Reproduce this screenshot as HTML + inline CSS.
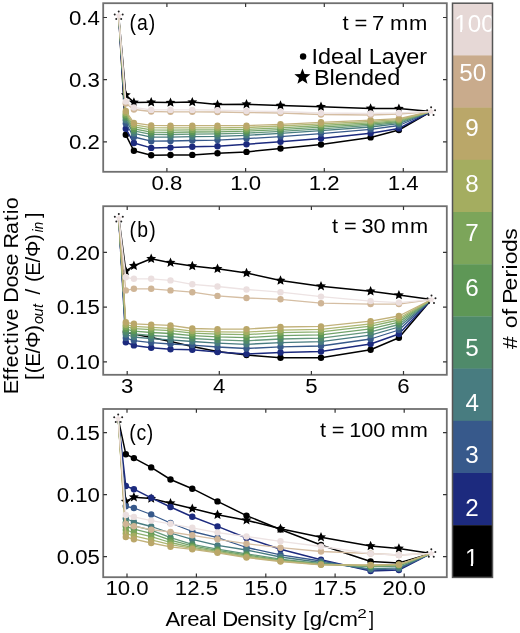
<!DOCTYPE html><html><head><meta charset="utf-8"><style>html,body{margin:0;padding:0;background:#fff;width:520px;height:633px;overflow:hidden}svg text{font-family:"Liberation Sans",sans-serif}</style></head><body><svg width="520" height="633" viewBox="0 0 520 633" style="position:absolute;left:0;top:0;filter:blur(0.5px)">
<rect width="520" height="633" fill="#fff"/>
<clipPath id="ca"><rect x="103.2" y="3.2" width="343.6" height="168.60000000000002"/></clipPath>
<g clip-path="url(#ca)">
<path d="M118.7,15.7 L125.8,95.0 L133.9,102.4 L151.2,102.3 L170.5,102.6 L192.3,102.1 L217.5,104.6 L246.5,104.2 L280.5,105.5 L321.0,106.8 L370.6,108.4 L398.9,108.6 L431.1,111.5" fill="none" stroke="#000" stroke-width="1.50" stroke-linejoin="round"/>
<path d="M125.80,89.80 L127.21,93.06 L130.75,93.39 L128.07,95.74 L128.86,99.21 L125.80,97.39 L122.74,99.21 L123.53,95.74 L120.85,93.39 L124.39,93.06Z" fill="#000"/>
<path d="M133.90,97.20 L135.31,100.46 L138.85,100.79 L136.17,103.14 L136.96,106.61 L133.90,104.79 L130.84,106.61 L131.63,103.14 L128.95,100.79 L132.49,100.46Z" fill="#000"/>
<path d="M151.20,97.10 L152.61,100.36 L156.15,100.69 L153.47,103.04 L154.26,106.51 L151.20,104.69 L148.14,106.51 L148.93,103.04 L146.25,100.69 L149.79,100.36Z" fill="#000"/>
<path d="M170.50,97.40 L171.91,100.66 L175.45,100.99 L172.77,103.34 L173.56,106.81 L170.50,104.99 L167.44,106.81 L168.23,103.34 L165.55,100.99 L169.09,100.66Z" fill="#000"/>
<path d="M192.30,96.90 L193.71,100.16 L197.25,100.49 L194.57,102.84 L195.36,106.31 L192.30,104.49 L189.24,106.31 L190.03,102.84 L187.35,100.49 L190.89,100.16Z" fill="#000"/>
<path d="M217.50,99.40 L218.91,102.66 L222.45,102.99 L219.77,105.34 L220.56,108.81 L217.50,106.99 L214.44,108.81 L215.23,105.34 L212.55,102.99 L216.09,102.66Z" fill="#000"/>
<path d="M246.50,99.00 L247.91,102.26 L251.45,102.59 L248.77,104.94 L249.56,108.41 L246.50,106.59 L243.44,108.41 L244.23,104.94 L241.55,102.59 L245.09,102.26Z" fill="#000"/>
<path d="M280.50,100.30 L281.91,103.56 L285.45,103.89 L282.77,106.24 L283.56,109.71 L280.50,107.89 L277.44,109.71 L278.23,106.24 L275.55,103.89 L279.09,103.56Z" fill="#000"/>
<path d="M321.00,101.60 L322.41,104.86 L325.95,105.19 L323.27,107.54 L324.06,111.01 L321.00,109.19 L317.94,111.01 L318.73,107.54 L316.05,105.19 L319.59,104.86Z" fill="#000"/>
<path d="M370.60,103.20 L372.01,106.46 L375.55,106.79 L372.87,109.14 L373.66,112.61 L370.60,110.79 L367.54,112.61 L368.33,109.14 L365.65,106.79 L369.19,106.46Z" fill="#000"/>
<path d="M398.90,103.40 L400.31,106.66 L403.85,106.99 L401.17,109.34 L401.96,112.81 L398.90,110.99 L395.84,112.81 L396.63,109.34 L393.95,106.99 L397.49,106.66Z" fill="#000"/>
<path d="M118.7,15.7 L125.8,134.8 L133.9,150.8 L151.2,155.3 L170.5,155.0 L192.3,154.9 L217.5,153.3 L246.5,151.9 L280.5,148.5 L321.0,144.5 L370.6,137.4 L398.9,130.0 L431.1,111.5" fill="none" stroke="#000000" stroke-width="1.50" stroke-linejoin="round"/>
<circle cx="125.8" cy="134.8" r="3.2" fill="#000000"/>
<circle cx="133.9" cy="150.8" r="3.2" fill="#000000"/>
<circle cx="151.2" cy="155.3" r="3.2" fill="#000000"/>
<circle cx="170.5" cy="155.0" r="3.2" fill="#000000"/>
<circle cx="192.3" cy="154.9" r="3.2" fill="#000000"/>
<circle cx="217.5" cy="153.3" r="3.2" fill="#000000"/>
<circle cx="246.5" cy="151.9" r="3.2" fill="#000000"/>
<circle cx="280.5" cy="148.5" r="3.2" fill="#000000"/>
<circle cx="321.0" cy="144.5" r="3.2" fill="#000000"/>
<circle cx="370.6" cy="137.4" r="3.2" fill="#000000"/>
<circle cx="398.9" cy="130.0" r="3.2" fill="#000000"/>
<path d="M118.7,15.7 L125.8,128.8 L133.9,143.0 L151.2,147.9 L170.5,147.6 L192.3,146.8 L217.5,146.3 L246.5,144.2 L280.5,141.8 L321.0,138.5 L370.6,133.3 L398.9,128.4 L431.1,111.5" fill="none" stroke="#1c2a7e" stroke-width="1.50" stroke-linejoin="round"/>
<circle cx="125.8" cy="128.8" r="3.2" fill="#1c2a7e"/>
<circle cx="133.9" cy="143.0" r="3.2" fill="#1c2a7e"/>
<circle cx="151.2" cy="147.9" r="3.2" fill="#1c2a7e"/>
<circle cx="170.5" cy="147.6" r="3.2" fill="#1c2a7e"/>
<circle cx="192.3" cy="146.8" r="3.2" fill="#1c2a7e"/>
<circle cx="217.5" cy="146.3" r="3.2" fill="#1c2a7e"/>
<circle cx="246.5" cy="144.2" r="3.2" fill="#1c2a7e"/>
<circle cx="280.5" cy="141.8" r="3.2" fill="#1c2a7e"/>
<circle cx="321.0" cy="138.5" r="3.2" fill="#1c2a7e"/>
<circle cx="370.6" cy="133.3" r="3.2" fill="#1c2a7e"/>
<circle cx="398.9" cy="128.4" r="3.2" fill="#1c2a7e"/>
<path d="M118.7,15.7 L125.8,123.5 L133.9,137.0 L151.2,141.2 L170.5,141.0 L192.3,140.5 L217.5,140.1 L246.5,138.6 L280.5,136.6 L321.0,133.6 L370.6,129.4 L398.9,125.5 L431.1,111.5" fill="none" stroke="#37598b" stroke-width="1.30" stroke-linejoin="round"/>
<circle cx="125.8" cy="123.5" r="3.2" fill="#37598b"/>
<circle cx="133.9" cy="137.0" r="3.2" fill="#37598b"/>
<circle cx="151.2" cy="141.2" r="3.2" fill="#37598b"/>
<circle cx="170.5" cy="141.0" r="3.2" fill="#37598b"/>
<circle cx="192.3" cy="140.5" r="3.2" fill="#37598b"/>
<circle cx="217.5" cy="140.1" r="3.2" fill="#37598b"/>
<circle cx="246.5" cy="138.6" r="3.2" fill="#37598b"/>
<circle cx="280.5" cy="136.6" r="3.2" fill="#37598b"/>
<circle cx="321.0" cy="133.6" r="3.2" fill="#37598b"/>
<circle cx="370.6" cy="129.4" r="3.2" fill="#37598b"/>
<circle cx="398.9" cy="125.5" r="3.2" fill="#37598b"/>
<path d="M118.7,15.7 L125.8,120.3 L133.9,133.4 L151.2,137.1 L170.5,137.1 L192.3,136.7 L217.5,136.4 L246.5,135.3 L280.5,133.4 L321.0,130.7 L370.6,127.0 L398.9,123.7 L431.1,111.5" fill="none" stroke="#487c80" stroke-width="1.30" stroke-linejoin="round"/>
<circle cx="125.8" cy="120.3" r="3.2" fill="#487c80"/>
<circle cx="133.9" cy="133.4" r="3.2" fill="#487c80"/>
<circle cx="151.2" cy="137.1" r="3.2" fill="#487c80"/>
<circle cx="170.5" cy="137.1" r="3.2" fill="#487c80"/>
<circle cx="192.3" cy="136.7" r="3.2" fill="#487c80"/>
<circle cx="217.5" cy="136.4" r="3.2" fill="#487c80"/>
<circle cx="246.5" cy="135.3" r="3.2" fill="#487c80"/>
<circle cx="280.5" cy="133.4" r="3.2" fill="#487c80"/>
<circle cx="321.0" cy="130.7" r="3.2" fill="#487c80"/>
<circle cx="370.6" cy="127.0" r="3.2" fill="#487c80"/>
<circle cx="398.9" cy="123.7" r="3.2" fill="#487c80"/>
<path d="M118.7,15.7 L125.8,118.1 L133.9,130.9 L151.2,134.4 L170.5,134.5 L192.3,134.1 L217.5,133.9 L246.5,133.1 L280.5,131.3 L321.0,128.8 L370.6,125.4 L398.9,122.5 L431.1,111.5" fill="none" stroke="#64987c" stroke-width="1.30" stroke-linejoin="round"/>
<circle cx="125.8" cy="118.1" r="3.2" fill="#4f8a6a"/>
<circle cx="133.9" cy="130.9" r="3.2" fill="#4f8a6a"/>
<circle cx="151.2" cy="134.4" r="3.2" fill="#4f8a6a"/>
<circle cx="170.5" cy="134.5" r="3.2" fill="#4f8a6a"/>
<circle cx="192.3" cy="134.1" r="3.2" fill="#4f8a6a"/>
<circle cx="217.5" cy="133.9" r="3.2" fill="#4f8a6a"/>
<circle cx="246.5" cy="133.1" r="3.2" fill="#4f8a6a"/>
<circle cx="280.5" cy="131.3" r="3.2" fill="#4f8a6a"/>
<circle cx="321.0" cy="128.8" r="3.2" fill="#4f8a6a"/>
<circle cx="370.6" cy="125.4" r="3.2" fill="#4f8a6a"/>
<circle cx="398.9" cy="122.5" r="3.2" fill="#4f8a6a"/>
<path d="M118.7,15.7 L125.8,116.3 L133.9,128.9 L151.2,132.2 L170.5,132.3 L192.3,132.0 L217.5,131.9 L246.5,131.2 L280.5,129.6 L321.0,127.2 L370.6,124.1 L398.9,121.5 L431.1,111.5" fill="none" stroke="#71a36a" stroke-width="1.30" stroke-linejoin="round"/>
<circle cx="125.8" cy="116.3" r="3.2" fill="#5e9756"/>
<circle cx="133.9" cy="128.9" r="3.2" fill="#5e9756"/>
<circle cx="151.2" cy="132.2" r="3.2" fill="#5e9756"/>
<circle cx="170.5" cy="132.3" r="3.2" fill="#5e9756"/>
<circle cx="192.3" cy="132.0" r="3.2" fill="#5e9756"/>
<circle cx="217.5" cy="131.9" r="3.2" fill="#5e9756"/>
<circle cx="246.5" cy="131.2" r="3.2" fill="#5e9756"/>
<circle cx="280.5" cy="129.6" r="3.2" fill="#5e9756"/>
<circle cx="321.0" cy="127.2" r="3.2" fill="#5e9756"/>
<circle cx="370.6" cy="124.1" r="3.2" fill="#5e9756"/>
<circle cx="398.9" cy="121.5" r="3.2" fill="#5e9756"/>
<path d="M118.7,15.7 L125.8,114.6 L133.9,126.9 L151.2,129.9 L170.5,130.1 L192.3,129.9 L217.5,129.8 L246.5,129.4 L280.5,127.8 L321.0,125.5 L370.6,122.8 L398.9,120.6 L431.1,111.5" fill="none" stroke="#8cb06e" stroke-width="1.30" stroke-linejoin="round"/>
<circle cx="125.8" cy="114.6" r="3.2" fill="#7ca55a"/>
<circle cx="133.9" cy="126.9" r="3.2" fill="#7ca55a"/>
<circle cx="151.2" cy="129.9" r="3.2" fill="#7ca55a"/>
<circle cx="170.5" cy="130.1" r="3.2" fill="#7ca55a"/>
<circle cx="192.3" cy="129.9" r="3.2" fill="#7ca55a"/>
<circle cx="217.5" cy="129.8" r="3.2" fill="#7ca55a"/>
<circle cx="246.5" cy="129.4" r="3.2" fill="#7ca55a"/>
<circle cx="280.5" cy="127.8" r="3.2" fill="#7ca55a"/>
<circle cx="321.0" cy="125.5" r="3.2" fill="#7ca55a"/>
<circle cx="370.6" cy="122.8" r="3.2" fill="#7ca55a"/>
<circle cx="398.9" cy="120.6" r="3.2" fill="#7ca55a"/>
<path d="M118.7,15.7 L125.8,112.8 L133.9,124.9 L151.2,127.7 L170.5,127.9 L192.3,127.8 L217.5,127.8 L246.5,127.5 L280.5,126.0 L321.0,123.9 L370.6,121.5 L398.9,119.6 L431.1,111.5" fill="none" stroke="#afb773" stroke-width="1.30" stroke-linejoin="round"/>
<circle cx="125.8" cy="112.8" r="3.2" fill="#a4ad60"/>
<circle cx="133.9" cy="124.9" r="3.2" fill="#a4ad60"/>
<circle cx="151.2" cy="127.7" r="3.2" fill="#a4ad60"/>
<circle cx="170.5" cy="127.9" r="3.2" fill="#a4ad60"/>
<circle cx="192.3" cy="127.8" r="3.2" fill="#a4ad60"/>
<circle cx="217.5" cy="127.8" r="3.2" fill="#a4ad60"/>
<circle cx="246.5" cy="127.5" r="3.2" fill="#a4ad60"/>
<circle cx="280.5" cy="126.0" r="3.2" fill="#a4ad60"/>
<circle cx="321.0" cy="123.9" r="3.2" fill="#a4ad60"/>
<circle cx="370.6" cy="121.5" r="3.2" fill="#a4ad60"/>
<circle cx="398.9" cy="119.6" r="3.2" fill="#a4ad60"/>
<path d="M118.7,15.7 L125.8,111.0 L133.9,122.9 L151.2,125.4 L170.5,125.7 L192.3,125.7 L217.5,125.7 L246.5,125.7 L280.5,124.3 L321.0,122.3 L370.6,120.2 L398.9,118.6 L431.1,111.5" fill="none" stroke="#c2b27b" stroke-width="1.30" stroke-linejoin="round"/>
<circle cx="125.8" cy="111.0" r="3.2" fill="#baa769"/>
<circle cx="133.9" cy="122.9" r="3.2" fill="#baa769"/>
<circle cx="151.2" cy="125.4" r="3.2" fill="#baa769"/>
<circle cx="170.5" cy="125.7" r="3.2" fill="#baa769"/>
<circle cx="192.3" cy="125.7" r="3.2" fill="#baa769"/>
<circle cx="217.5" cy="125.7" r="3.2" fill="#baa769"/>
<circle cx="246.5" cy="125.7" r="3.2" fill="#baa769"/>
<circle cx="280.5" cy="124.3" r="3.2" fill="#baa769"/>
<circle cx="321.0" cy="122.3" r="3.2" fill="#baa769"/>
<circle cx="370.6" cy="120.2" r="3.2" fill="#baa769"/>
<circle cx="398.9" cy="118.6" r="3.2" fill="#baa769"/>
<path d="M118.7,15.7 L125.8,103.5 L133.9,109.5 L151.2,111.5 L170.5,111.8 L192.3,111.8 L217.5,112.0 L246.5,112.5 L280.5,113.0 L321.0,114.5 L370.6,115.0 L398.9,114.0 L431.1,111.5" fill="none" stroke="#d5bea3" stroke-width="1.30" stroke-linejoin="round"/>
<circle cx="125.8" cy="103.5" r="3.2" fill="#cfb596"/>
<circle cx="133.9" cy="109.5" r="3.2" fill="#cfb596"/>
<circle cx="151.2" cy="111.5" r="3.2" fill="#cfb596"/>
<circle cx="170.5" cy="111.8" r="3.2" fill="#cfb596"/>
<circle cx="192.3" cy="111.8" r="3.2" fill="#cfb596"/>
<circle cx="217.5" cy="112.0" r="3.2" fill="#cfb596"/>
<circle cx="246.5" cy="112.5" r="3.2" fill="#cfb596"/>
<circle cx="280.5" cy="113.0" r="3.2" fill="#cfb596"/>
<circle cx="321.0" cy="114.5" r="3.2" fill="#cfb596"/>
<circle cx="370.6" cy="115.0" r="3.2" fill="#cfb596"/>
<circle cx="398.9" cy="114.0" r="3.2" fill="#cfb596"/>
<path d="M118.7,15.7 L125.8,101.6 L133.9,107.5 L151.2,109.9 L170.5,109.9 L192.3,109.9 L217.5,110.2 L246.5,111.0 L280.5,111.5 L321.0,113.0 L370.6,113.5 L398.9,112.9 L431.1,111.5" fill="none" stroke="#ede3e3" stroke-width="1.30" stroke-linejoin="round"/>
<circle cx="125.8" cy="101.6" r="3.2" fill="#ebdfdf"/>
<circle cx="133.9" cy="107.5" r="3.2" fill="#ebdfdf"/>
<circle cx="151.2" cy="109.9" r="3.2" fill="#ebdfdf"/>
<circle cx="170.5" cy="109.9" r="3.2" fill="#ebdfdf"/>
<circle cx="192.3" cy="109.9" r="3.2" fill="#ebdfdf"/>
<circle cx="217.5" cy="110.2" r="3.2" fill="#ebdfdf"/>
<circle cx="246.5" cy="111.0" r="3.2" fill="#ebdfdf"/>
<circle cx="280.5" cy="111.5" r="3.2" fill="#ebdfdf"/>
<circle cx="321.0" cy="113.0" r="3.2" fill="#ebdfdf"/>
<circle cx="370.6" cy="113.5" r="3.2" fill="#ebdfdf"/>
<circle cx="398.9" cy="112.9" r="3.2" fill="#ebdfdf"/>
<path d="M118.70,11.40 L119.76,14.24 L122.79,14.37 L120.42,16.26 L121.23,19.18 L118.70,17.51 L116.17,19.18 L116.98,16.26 L114.61,14.37 L117.64,14.24Z" fill="#efe3e3"/>
<circle cx="118.70" cy="11.50" r="1.0" fill="#222"/>
<circle cx="122.69" cy="14.40" r="1.0" fill="#222"/>
<circle cx="121.17" cy="19.10" r="1.0" fill="#222"/>
<circle cx="116.23" cy="19.10" r="1.0" fill="#222"/>
<circle cx="114.71" cy="14.40" r="1.0" fill="#222"/>
<path d="M431.10,107.20 L432.16,110.04 L435.19,110.17 L432.82,112.06 L433.63,114.98 L431.10,113.31 L428.57,114.98 L429.38,112.06 L427.01,110.17 L430.04,110.04Z" fill="#efe3e3"/>
<circle cx="431.10" cy="107.30" r="1.0" fill="#222"/>
<circle cx="435.09" cy="110.20" r="1.0" fill="#222"/>
<circle cx="433.57" cy="114.90" r="1.0" fill="#222"/>
<circle cx="428.63" cy="114.90" r="1.0" fill="#222"/>
<circle cx="427.11" cy="110.20" r="1.0" fill="#222"/>
</g>
<rect x="103.2" y="3.2" width="343.6" height="168.60000000000002" fill="none" stroke="#707070" stroke-width="1.8"/>
<clipPath id="cb"><rect x="103.2" y="206.2" width="343.6" height="168.60000000000002"/></clipPath>
<g clip-path="url(#cb)">
<path d="M118.8,218.1 L125.8,271.0 L133.9,265.8 L151.2,258.8 L170.5,262.7 L192.3,266.0 L217.5,268.8 L246.5,273.0 L280.5,280.5 L321.0,286.2 L370.6,291.3 L398.9,295.1 L431.5,299.6" fill="none" stroke="#000" stroke-width="1.50" stroke-linejoin="round"/>
<path d="M125.80,265.80 L127.21,269.06 L130.75,269.39 L128.07,271.74 L128.86,275.21 L125.80,273.39 L122.74,275.21 L123.53,271.74 L120.85,269.39 L124.39,269.06Z" fill="#000"/>
<path d="M133.90,260.60 L135.31,263.86 L138.85,264.19 L136.17,266.54 L136.96,270.01 L133.90,268.19 L130.84,270.01 L131.63,266.54 L128.95,264.19 L132.49,263.86Z" fill="#000"/>
<path d="M151.20,253.60 L152.61,256.86 L156.15,257.19 L153.47,259.54 L154.26,263.01 L151.20,261.19 L148.14,263.01 L148.93,259.54 L146.25,257.19 L149.79,256.86Z" fill="#000"/>
<path d="M170.50,257.50 L171.91,260.76 L175.45,261.09 L172.77,263.44 L173.56,266.91 L170.50,265.09 L167.44,266.91 L168.23,263.44 L165.55,261.09 L169.09,260.76Z" fill="#000"/>
<path d="M192.30,260.80 L193.71,264.06 L197.25,264.39 L194.57,266.74 L195.36,270.21 L192.30,268.39 L189.24,270.21 L190.03,266.74 L187.35,264.39 L190.89,264.06Z" fill="#000"/>
<path d="M217.50,263.60 L218.91,266.86 L222.45,267.19 L219.77,269.54 L220.56,273.01 L217.50,271.19 L214.44,273.01 L215.23,269.54 L212.55,267.19 L216.09,266.86Z" fill="#000"/>
<path d="M246.50,267.80 L247.91,271.06 L251.45,271.39 L248.77,273.74 L249.56,277.21 L246.50,275.39 L243.44,277.21 L244.23,273.74 L241.55,271.39 L245.09,271.06Z" fill="#000"/>
<path d="M280.50,275.30 L281.91,278.56 L285.45,278.89 L282.77,281.24 L283.56,284.71 L280.50,282.89 L277.44,284.71 L278.23,281.24 L275.55,278.89 L279.09,278.56Z" fill="#000"/>
<path d="M321.00,281.00 L322.41,284.26 L325.95,284.59 L323.27,286.94 L324.06,290.41 L321.00,288.59 L317.94,290.41 L318.73,286.94 L316.05,284.59 L319.59,284.26Z" fill="#000"/>
<path d="M370.60,286.10 L372.01,289.36 L375.55,289.69 L372.87,292.04 L373.66,295.51 L370.60,293.69 L367.54,295.51 L368.33,292.04 L365.65,289.69 L369.19,289.36Z" fill="#000"/>
<path d="M398.90,289.90 L400.31,293.16 L403.85,293.49 L401.17,295.84 L401.96,299.31 L398.90,297.49 L395.84,299.31 L396.63,295.84 L393.95,293.49 L397.49,293.16Z" fill="#000"/>
<path d="M118.8,218.1 L125.8,332.0 L133.9,334.0 L151.2,337.5 L170.5,341.5 L192.3,346.5 L217.5,351.5 L246.5,355.0 L280.5,357.7 L321.0,357.7 L370.6,349.7 L398.9,337.8 L431.5,299.6" fill="none" stroke="#000000" stroke-width="1.50" stroke-linejoin="round"/>
<circle cx="125.8" cy="332.0" r="3.2" fill="#000000"/>
<circle cx="133.9" cy="334.0" r="3.2" fill="#000000"/>
<circle cx="151.2" cy="337.5" r="3.2" fill="#000000"/>
<circle cx="170.5" cy="341.5" r="3.2" fill="#000000"/>
<circle cx="192.3" cy="346.5" r="3.2" fill="#000000"/>
<circle cx="217.5" cy="351.5" r="3.2" fill="#000000"/>
<circle cx="246.5" cy="355.0" r="3.2" fill="#000000"/>
<circle cx="280.5" cy="357.7" r="3.2" fill="#000000"/>
<circle cx="321.0" cy="357.7" r="3.2" fill="#000000"/>
<circle cx="370.6" cy="349.7" r="3.2" fill="#000000"/>
<circle cx="398.9" cy="337.8" r="3.2" fill="#000000"/>
<path d="M118.8,218.1 L125.8,342.3 L133.9,345.4 L151.2,347.7 L170.5,349.2 L192.3,349.8 L217.5,352.0 L246.5,354.0 L280.5,352.5 L321.0,351.5 L370.6,344.0 L398.9,334.0 L431.5,299.6" fill="none" stroke="#1c2a7e" stroke-width="1.50" stroke-linejoin="round"/>
<circle cx="125.8" cy="342.3" r="3.2" fill="#1c2a7e"/>
<circle cx="133.9" cy="345.4" r="3.2" fill="#1c2a7e"/>
<circle cx="151.2" cy="347.7" r="3.2" fill="#1c2a7e"/>
<circle cx="170.5" cy="349.2" r="3.2" fill="#1c2a7e"/>
<circle cx="192.3" cy="349.8" r="3.2" fill="#1c2a7e"/>
<circle cx="217.5" cy="352.0" r="3.2" fill="#1c2a7e"/>
<circle cx="246.5" cy="354.0" r="3.2" fill="#1c2a7e"/>
<circle cx="280.5" cy="352.5" r="3.2" fill="#1c2a7e"/>
<circle cx="321.0" cy="351.5" r="3.2" fill="#1c2a7e"/>
<circle cx="370.6" cy="344.0" r="3.2" fill="#1c2a7e"/>
<circle cx="398.9" cy="334.0" r="3.2" fill="#1c2a7e"/>
<path d="M118.8,218.1 L125.8,337.9 L133.9,340.6 L151.2,342.6 L170.5,344.0 L192.3,345.1 L217.5,347.0 L246.5,348.5 L280.5,346.9 L321.0,346.0 L370.6,339.0 L398.9,330.0 L431.5,299.6" fill="none" stroke="#37598b" stroke-width="1.30" stroke-linejoin="round"/>
<circle cx="125.8" cy="337.9" r="3.2" fill="#37598b"/>
<circle cx="133.9" cy="340.6" r="3.2" fill="#37598b"/>
<circle cx="151.2" cy="342.6" r="3.2" fill="#37598b"/>
<circle cx="170.5" cy="344.0" r="3.2" fill="#37598b"/>
<circle cx="192.3" cy="345.1" r="3.2" fill="#37598b"/>
<circle cx="217.5" cy="347.0" r="3.2" fill="#37598b"/>
<circle cx="246.5" cy="348.5" r="3.2" fill="#37598b"/>
<circle cx="280.5" cy="346.9" r="3.2" fill="#37598b"/>
<circle cx="321.0" cy="346.0" r="3.2" fill="#37598b"/>
<circle cx="370.6" cy="339.0" r="3.2" fill="#37598b"/>
<circle cx="398.9" cy="330.0" r="3.2" fill="#37598b"/>
<path d="M118.8,218.1 L125.8,334.5 L133.9,337.0 L151.2,338.7 L170.5,339.9 L192.3,341.5 L217.5,343.1 L246.5,344.3 L280.5,342.6 L321.0,341.7 L370.6,335.1 L398.9,327.0 L431.5,299.6" fill="none" stroke="#487c80" stroke-width="1.30" stroke-linejoin="round"/>
<circle cx="125.8" cy="334.5" r="3.2" fill="#487c80"/>
<circle cx="133.9" cy="337.0" r="3.2" fill="#487c80"/>
<circle cx="151.2" cy="338.7" r="3.2" fill="#487c80"/>
<circle cx="170.5" cy="339.9" r="3.2" fill="#487c80"/>
<circle cx="192.3" cy="341.5" r="3.2" fill="#487c80"/>
<circle cx="217.5" cy="343.1" r="3.2" fill="#487c80"/>
<circle cx="246.5" cy="344.3" r="3.2" fill="#487c80"/>
<circle cx="280.5" cy="342.6" r="3.2" fill="#487c80"/>
<circle cx="321.0" cy="341.7" r="3.2" fill="#487c80"/>
<circle cx="370.6" cy="335.1" r="3.2" fill="#487c80"/>
<circle cx="398.9" cy="327.0" r="3.2" fill="#487c80"/>
<path d="M118.8,218.1 L125.8,331.7 L133.9,334.0 L151.2,335.5 L170.5,336.6 L192.3,338.5 L217.5,339.9 L246.5,340.8 L280.5,339.0 L321.0,338.2 L370.6,331.9 L398.9,324.5 L431.5,299.6" fill="none" stroke="#64987c" stroke-width="1.30" stroke-linejoin="round"/>
<circle cx="125.8" cy="331.7" r="3.2" fill="#4f8a6a"/>
<circle cx="133.9" cy="334.0" r="3.2" fill="#4f8a6a"/>
<circle cx="151.2" cy="335.5" r="3.2" fill="#4f8a6a"/>
<circle cx="170.5" cy="336.6" r="3.2" fill="#4f8a6a"/>
<circle cx="192.3" cy="338.5" r="3.2" fill="#4f8a6a"/>
<circle cx="217.5" cy="339.9" r="3.2" fill="#4f8a6a"/>
<circle cx="246.5" cy="340.8" r="3.2" fill="#4f8a6a"/>
<circle cx="280.5" cy="339.0" r="3.2" fill="#4f8a6a"/>
<circle cx="321.0" cy="338.2" r="3.2" fill="#4f8a6a"/>
<circle cx="370.6" cy="331.9" r="3.2" fill="#4f8a6a"/>
<circle cx="398.9" cy="324.5" r="3.2" fill="#4f8a6a"/>
<path d="M118.8,218.1 L125.8,329.1 L133.9,331.1 L151.2,332.5 L170.5,333.5 L192.3,335.7 L217.5,336.9 L246.5,337.6 L280.5,335.7 L321.0,334.9 L370.6,328.9 L398.9,322.1 L431.5,299.6" fill="none" stroke="#71a36a" stroke-width="1.30" stroke-linejoin="round"/>
<circle cx="125.8" cy="329.1" r="3.2" fill="#5e9756"/>
<circle cx="133.9" cy="331.1" r="3.2" fill="#5e9756"/>
<circle cx="151.2" cy="332.5" r="3.2" fill="#5e9756"/>
<circle cx="170.5" cy="333.5" r="3.2" fill="#5e9756"/>
<circle cx="192.3" cy="335.7" r="3.2" fill="#5e9756"/>
<circle cx="217.5" cy="336.9" r="3.2" fill="#5e9756"/>
<circle cx="246.5" cy="337.6" r="3.2" fill="#5e9756"/>
<circle cx="280.5" cy="335.7" r="3.2" fill="#5e9756"/>
<circle cx="321.0" cy="334.9" r="3.2" fill="#5e9756"/>
<circle cx="370.6" cy="328.9" r="3.2" fill="#5e9756"/>
<circle cx="398.9" cy="322.1" r="3.2" fill="#5e9756"/>
<path d="M118.8,218.1 L125.8,326.7 L133.9,328.6 L151.2,329.7 L170.5,330.6 L192.3,333.2 L217.5,334.1 L246.5,334.6 L280.5,332.6 L321.0,331.9 L370.6,326.1 L398.9,320.0 L431.5,299.6" fill="none" stroke="#8cb06e" stroke-width="1.30" stroke-linejoin="round"/>
<circle cx="125.8" cy="326.7" r="3.2" fill="#7ca55a"/>
<circle cx="133.9" cy="328.6" r="3.2" fill="#7ca55a"/>
<circle cx="151.2" cy="329.7" r="3.2" fill="#7ca55a"/>
<circle cx="170.5" cy="330.6" r="3.2" fill="#7ca55a"/>
<circle cx="192.3" cy="333.2" r="3.2" fill="#7ca55a"/>
<circle cx="217.5" cy="334.1" r="3.2" fill="#7ca55a"/>
<circle cx="246.5" cy="334.6" r="3.2" fill="#7ca55a"/>
<circle cx="280.5" cy="332.6" r="3.2" fill="#7ca55a"/>
<circle cx="321.0" cy="331.9" r="3.2" fill="#7ca55a"/>
<circle cx="370.6" cy="326.1" r="3.2" fill="#7ca55a"/>
<circle cx="398.9" cy="320.0" r="3.2" fill="#7ca55a"/>
<path d="M118.8,218.1 L125.8,324.7 L133.9,326.4 L151.2,327.4 L170.5,328.3 L192.3,331.1 L217.5,331.8 L246.5,332.1 L280.5,330.1 L321.0,329.4 L370.6,323.8 L398.9,318.2 L431.5,299.6" fill="none" stroke="#afb773" stroke-width="1.30" stroke-linejoin="round"/>
<circle cx="125.8" cy="324.7" r="3.2" fill="#a4ad60"/>
<circle cx="133.9" cy="326.4" r="3.2" fill="#a4ad60"/>
<circle cx="151.2" cy="327.4" r="3.2" fill="#a4ad60"/>
<circle cx="170.5" cy="328.3" r="3.2" fill="#a4ad60"/>
<circle cx="192.3" cy="331.1" r="3.2" fill="#a4ad60"/>
<circle cx="217.5" cy="331.8" r="3.2" fill="#a4ad60"/>
<circle cx="246.5" cy="332.1" r="3.2" fill="#a4ad60"/>
<circle cx="280.5" cy="330.1" r="3.2" fill="#a4ad60"/>
<circle cx="321.0" cy="329.4" r="3.2" fill="#a4ad60"/>
<circle cx="370.6" cy="323.8" r="3.2" fill="#a4ad60"/>
<circle cx="398.9" cy="318.2" r="3.2" fill="#a4ad60"/>
<path d="M118.8,218.1 L125.8,322.3 L133.9,323.8 L151.2,324.6 L170.5,325.4 L192.3,328.5 L217.5,329.1 L246.5,329.1 L280.5,327.0 L321.0,326.4 L370.6,321.1 L398.9,316.0 L431.5,299.6" fill="none" stroke="#c2b27b" stroke-width="1.30" stroke-linejoin="round"/>
<circle cx="125.8" cy="322.3" r="3.2" fill="#baa769"/>
<circle cx="133.9" cy="323.8" r="3.2" fill="#baa769"/>
<circle cx="151.2" cy="324.6" r="3.2" fill="#baa769"/>
<circle cx="170.5" cy="325.4" r="3.2" fill="#baa769"/>
<circle cx="192.3" cy="328.5" r="3.2" fill="#baa769"/>
<circle cx="217.5" cy="329.1" r="3.2" fill="#baa769"/>
<circle cx="246.5" cy="329.1" r="3.2" fill="#baa769"/>
<circle cx="280.5" cy="327.0" r="3.2" fill="#baa769"/>
<circle cx="321.0" cy="326.4" r="3.2" fill="#baa769"/>
<circle cx="370.6" cy="321.1" r="3.2" fill="#baa769"/>
<circle cx="398.9" cy="316.0" r="3.2" fill="#baa769"/>
<path d="M118.8,218.1 L125.8,290.4 L133.9,288.8 L151.2,288.8 L170.5,290.4 L192.3,292.2 L217.5,295.9 L246.5,298.0 L280.5,299.3 L321.0,303.2 L370.6,304.1 L398.9,304.1 L431.5,299.6" fill="none" stroke="#d5bea3" stroke-width="1.30" stroke-linejoin="round"/>
<circle cx="125.8" cy="290.4" r="3.2" fill="#cfb596"/>
<circle cx="133.9" cy="288.8" r="3.2" fill="#cfb596"/>
<circle cx="151.2" cy="288.8" r="3.2" fill="#cfb596"/>
<circle cx="170.5" cy="290.4" r="3.2" fill="#cfb596"/>
<circle cx="192.3" cy="292.2" r="3.2" fill="#cfb596"/>
<circle cx="217.5" cy="295.9" r="3.2" fill="#cfb596"/>
<circle cx="246.5" cy="298.0" r="3.2" fill="#cfb596"/>
<circle cx="280.5" cy="299.3" r="3.2" fill="#cfb596"/>
<circle cx="321.0" cy="303.2" r="3.2" fill="#cfb596"/>
<circle cx="370.6" cy="304.1" r="3.2" fill="#cfb596"/>
<circle cx="398.9" cy="304.1" r="3.2" fill="#cfb596"/>
<path d="M118.8,218.1 L125.8,277.3 L133.9,278.8 L151.2,278.8 L170.5,280.4 L192.3,284.3 L217.5,286.5 L246.5,289.5 L280.5,292.2 L321.0,296.6 L370.6,301.1 L398.9,302.6 L431.5,299.6" fill="none" stroke="#ede3e3" stroke-width="1.30" stroke-linejoin="round"/>
<circle cx="125.8" cy="277.3" r="3.2" fill="#ebdfdf"/>
<circle cx="133.9" cy="278.8" r="3.2" fill="#ebdfdf"/>
<circle cx="151.2" cy="278.8" r="3.2" fill="#ebdfdf"/>
<circle cx="170.5" cy="280.4" r="3.2" fill="#ebdfdf"/>
<circle cx="192.3" cy="284.3" r="3.2" fill="#ebdfdf"/>
<circle cx="217.5" cy="286.5" r="3.2" fill="#ebdfdf"/>
<circle cx="246.5" cy="289.5" r="3.2" fill="#ebdfdf"/>
<circle cx="280.5" cy="292.2" r="3.2" fill="#ebdfdf"/>
<circle cx="321.0" cy="296.6" r="3.2" fill="#ebdfdf"/>
<circle cx="370.6" cy="301.1" r="3.2" fill="#ebdfdf"/>
<circle cx="398.9" cy="302.6" r="3.2" fill="#ebdfdf"/>
<path d="M118.80,213.80 L119.86,216.64 L122.89,216.77 L120.52,218.66 L121.33,221.58 L118.80,219.91 L116.27,221.58 L117.08,218.66 L114.71,216.77 L117.74,216.64Z" fill="#efe3e3"/>
<circle cx="118.80" cy="213.90" r="1.0" fill="#222"/>
<circle cx="122.79" cy="216.80" r="1.0" fill="#222"/>
<circle cx="121.27" cy="221.50" r="1.0" fill="#222"/>
<circle cx="116.33" cy="221.50" r="1.0" fill="#222"/>
<circle cx="114.81" cy="216.80" r="1.0" fill="#222"/>
<path d="M431.50,295.30 L432.56,298.14 L435.59,298.27 L433.22,300.16 L434.03,303.08 L431.50,301.41 L428.97,303.08 L429.78,300.16 L427.41,298.27 L430.44,298.14Z" fill="#efe3e3"/>
<circle cx="431.50" cy="295.40" r="1.0" fill="#222"/>
<circle cx="435.49" cy="298.30" r="1.0" fill="#222"/>
<circle cx="433.97" cy="303.00" r="1.0" fill="#222"/>
<circle cx="429.03" cy="303.00" r="1.0" fill="#222"/>
<circle cx="427.51" cy="298.30" r="1.0" fill="#222"/>
</g>
<rect x="103.2" y="206.2" width="343.6" height="168.60000000000002" fill="none" stroke="#707070" stroke-width="1.8"/>
<clipPath id="cc"><rect x="103.2" y="409.0" width="343.6" height="168.20000000000005"/></clipPath>
<g clip-path="url(#cc)">
<path d="M118.2,418.6 L125.8,501.5 L133.9,497.2 L151.2,498.6 L170.5,503.2 L192.3,508.6 L217.5,514.8 L246.5,520.2 L280.5,528.8 L321.0,537.2 L370.6,546.0 L398.9,548.4 L431.3,553.4" fill="none" stroke="#000" stroke-width="1.50" stroke-linejoin="round"/>
<path d="M125.80,496.30 L127.21,499.56 L130.75,499.89 L128.07,502.24 L128.86,505.71 L125.80,503.89 L122.74,505.71 L123.53,502.24 L120.85,499.89 L124.39,499.56Z" fill="#000"/>
<path d="M133.90,492.00 L135.31,495.26 L138.85,495.59 L136.17,497.94 L136.96,501.41 L133.90,499.59 L130.84,501.41 L131.63,497.94 L128.95,495.59 L132.49,495.26Z" fill="#000"/>
<path d="M151.20,493.40 L152.61,496.66 L156.15,496.99 L153.47,499.34 L154.26,502.81 L151.20,500.99 L148.14,502.81 L148.93,499.34 L146.25,496.99 L149.79,496.66Z" fill="#000"/>
<path d="M170.50,498.00 L171.91,501.26 L175.45,501.59 L172.77,503.94 L173.56,507.41 L170.50,505.59 L167.44,507.41 L168.23,503.94 L165.55,501.59 L169.09,501.26Z" fill="#000"/>
<path d="M192.30,503.40 L193.71,506.66 L197.25,506.99 L194.57,509.34 L195.36,512.81 L192.30,510.99 L189.24,512.81 L190.03,509.34 L187.35,506.99 L190.89,506.66Z" fill="#000"/>
<path d="M217.50,509.60 L218.91,512.86 L222.45,513.19 L219.77,515.54 L220.56,519.01 L217.50,517.19 L214.44,519.01 L215.23,515.54 L212.55,513.19 L216.09,512.86Z" fill="#000"/>
<path d="M246.50,515.00 L247.91,518.26 L251.45,518.59 L248.77,520.94 L249.56,524.41 L246.50,522.59 L243.44,524.41 L244.23,520.94 L241.55,518.59 L245.09,518.26Z" fill="#000"/>
<path d="M280.50,523.60 L281.91,526.86 L285.45,527.19 L282.77,529.54 L283.56,533.01 L280.50,531.19 L277.44,533.01 L278.23,529.54 L275.55,527.19 L279.09,526.86Z" fill="#000"/>
<path d="M321.00,532.00 L322.41,535.26 L325.95,535.59 L323.27,537.94 L324.06,541.41 L321.00,539.59 L317.94,541.41 L318.73,537.94 L316.05,535.59 L319.59,535.26Z" fill="#000"/>
<path d="M370.60,540.80 L372.01,544.06 L375.55,544.39 L372.87,546.74 L373.66,550.21 L370.60,548.39 L367.54,550.21 L368.33,546.74 L365.65,544.39 L369.19,544.06Z" fill="#000"/>
<path d="M398.90,543.20 L400.31,546.46 L403.85,546.79 L401.17,549.14 L401.96,552.61 L398.90,550.79 L395.84,552.61 L396.63,549.14 L393.95,546.79 L397.49,546.46Z" fill="#000"/>
<path d="M118.2,418.6 L125.8,454.2 L133.9,458.1 L151.2,467.4 L170.5,479.5 L192.3,488.7 L217.5,501.4 L246.5,515.6 L280.5,529.5 L321.0,545.0 L370.6,561.5 L398.9,562.9 L431.3,553.4" fill="none" stroke="#000000" stroke-width="1.50" stroke-linejoin="round"/>
<circle cx="125.8" cy="454.2" r="3.2" fill="#000000"/>
<circle cx="133.9" cy="458.1" r="3.2" fill="#000000"/>
<circle cx="151.2" cy="467.4" r="3.2" fill="#000000"/>
<circle cx="170.5" cy="479.5" r="3.2" fill="#000000"/>
<circle cx="192.3" cy="488.7" r="3.2" fill="#000000"/>
<circle cx="217.5" cy="501.4" r="3.2" fill="#000000"/>
<circle cx="246.5" cy="515.6" r="3.2" fill="#000000"/>
<circle cx="280.5" cy="529.5" r="3.2" fill="#000000"/>
<circle cx="321.0" cy="545.0" r="3.2" fill="#000000"/>
<circle cx="370.6" cy="561.5" r="3.2" fill="#000000"/>
<circle cx="398.9" cy="562.9" r="3.2" fill="#000000"/>
<path d="M118.2,418.6 L125.8,486.0 L133.9,489.2 L151.2,497.8 L170.5,507.0 L192.3,516.7 L217.5,526.4 L246.5,538.0 L280.5,549.3 L321.0,559.7 L370.6,571.0 L398.9,570.0 L431.3,553.4" fill="none" stroke="#1c2a7e" stroke-width="1.50" stroke-linejoin="round"/>
<circle cx="125.8" cy="486.0" r="3.2" fill="#1c2a7e"/>
<circle cx="133.9" cy="489.2" r="3.2" fill="#1c2a7e"/>
<circle cx="151.2" cy="497.8" r="3.2" fill="#1c2a7e"/>
<circle cx="170.5" cy="507.0" r="3.2" fill="#1c2a7e"/>
<circle cx="192.3" cy="516.7" r="3.2" fill="#1c2a7e"/>
<circle cx="217.5" cy="526.4" r="3.2" fill="#1c2a7e"/>
<circle cx="246.5" cy="538.0" r="3.2" fill="#1c2a7e"/>
<circle cx="280.5" cy="549.3" r="3.2" fill="#1c2a7e"/>
<circle cx="321.0" cy="559.7" r="3.2" fill="#1c2a7e"/>
<circle cx="370.6" cy="571.0" r="3.2" fill="#1c2a7e"/>
<circle cx="398.9" cy="570.0" r="3.2" fill="#1c2a7e"/>
<path d="M118.2,418.6 L125.8,506.3 L133.9,508.0 L151.2,514.5 L170.5,523.0 L192.3,531.5 L217.5,537.7 L246.5,547.5 L280.5,554.8 L321.0,561.0 L370.6,569.8 L398.9,568.9 L431.3,553.4" fill="none" stroke="#37598b" stroke-width="1.30" stroke-linejoin="round"/>
<circle cx="125.8" cy="506.3" r="3.2" fill="#37598b"/>
<circle cx="133.9" cy="508.0" r="3.2" fill="#37598b"/>
<circle cx="151.2" cy="514.5" r="3.2" fill="#37598b"/>
<circle cx="170.5" cy="523.0" r="3.2" fill="#37598b"/>
<circle cx="192.3" cy="531.5" r="3.2" fill="#37598b"/>
<circle cx="217.5" cy="537.7" r="3.2" fill="#37598b"/>
<circle cx="246.5" cy="547.5" r="3.2" fill="#37598b"/>
<circle cx="280.5" cy="554.8" r="3.2" fill="#37598b"/>
<circle cx="321.0" cy="561.0" r="3.2" fill="#37598b"/>
<circle cx="370.6" cy="569.8" r="3.2" fill="#37598b"/>
<circle cx="398.9" cy="568.9" r="3.2" fill="#37598b"/>
<path d="M118.2,418.6 L125.8,518.5 L133.9,522.0 L151.2,526.5 L170.5,533.0 L192.3,539.3 L217.5,545.4 L246.5,550.0 L280.5,557.0 L321.0,562.5 L370.6,568.8 L398.9,567.9 L431.3,553.4" fill="none" stroke="#487c80" stroke-width="1.30" stroke-linejoin="round"/>
<circle cx="125.8" cy="518.5" r="3.2" fill="#487c80"/>
<circle cx="133.9" cy="522.0" r="3.2" fill="#487c80"/>
<circle cx="151.2" cy="526.5" r="3.2" fill="#487c80"/>
<circle cx="170.5" cy="533.0" r="3.2" fill="#487c80"/>
<circle cx="192.3" cy="539.3" r="3.2" fill="#487c80"/>
<circle cx="217.5" cy="545.4" r="3.2" fill="#487c80"/>
<circle cx="246.5" cy="550.0" r="3.2" fill="#487c80"/>
<circle cx="280.5" cy="557.0" r="3.2" fill="#487c80"/>
<circle cx="321.0" cy="562.5" r="3.2" fill="#487c80"/>
<circle cx="370.6" cy="568.8" r="3.2" fill="#487c80"/>
<circle cx="398.9" cy="567.9" r="3.2" fill="#487c80"/>
<path d="M118.2,418.6 L125.8,522.6 L133.9,525.8 L151.2,530.1 L170.5,537.6 L192.3,544.3 L217.5,549.1 L246.5,553.8 L280.5,559.2 L321.0,563.6 L370.6,566.9 L398.9,566.1 L431.3,553.4" fill="none" stroke="#64987c" stroke-width="1.30" stroke-linejoin="round"/>
<circle cx="125.8" cy="522.6" r="3.2" fill="#4f8a6a"/>
<circle cx="133.9" cy="525.8" r="3.2" fill="#4f8a6a"/>
<circle cx="151.2" cy="530.1" r="3.2" fill="#4f8a6a"/>
<circle cx="170.5" cy="537.6" r="3.2" fill="#4f8a6a"/>
<circle cx="192.3" cy="544.3" r="3.2" fill="#4f8a6a"/>
<circle cx="217.5" cy="549.1" r="3.2" fill="#4f8a6a"/>
<circle cx="246.5" cy="553.8" r="3.2" fill="#4f8a6a"/>
<circle cx="280.5" cy="559.2" r="3.2" fill="#4f8a6a"/>
<circle cx="321.0" cy="563.6" r="3.2" fill="#4f8a6a"/>
<circle cx="370.6" cy="566.9" r="3.2" fill="#4f8a6a"/>
<circle cx="398.9" cy="566.1" r="3.2" fill="#4f8a6a"/>
<path d="M118.2,418.6 L125.8,526.3 L133.9,529.2 L151.2,533.4 L170.5,540.1 L192.3,545.9 L217.5,550.3 L246.5,555.0 L280.5,560.0 L321.0,564.0 L370.6,566.3 L398.9,565.6 L431.3,553.4" fill="none" stroke="#71a36a" stroke-width="1.30" stroke-linejoin="round"/>
<circle cx="125.8" cy="526.3" r="3.2" fill="#5e9756"/>
<circle cx="133.9" cy="529.2" r="3.2" fill="#5e9756"/>
<circle cx="151.2" cy="533.4" r="3.2" fill="#5e9756"/>
<circle cx="170.5" cy="540.1" r="3.2" fill="#5e9756"/>
<circle cx="192.3" cy="545.9" r="3.2" fill="#5e9756"/>
<circle cx="217.5" cy="550.3" r="3.2" fill="#5e9756"/>
<circle cx="246.5" cy="555.0" r="3.2" fill="#5e9756"/>
<circle cx="280.5" cy="560.0" r="3.2" fill="#5e9756"/>
<circle cx="321.0" cy="564.0" r="3.2" fill="#5e9756"/>
<circle cx="370.6" cy="566.3" r="3.2" fill="#5e9756"/>
<circle cx="398.9" cy="565.6" r="3.2" fill="#5e9756"/>
<path d="M118.2,418.6 L125.8,530.0 L133.9,532.7 L151.2,536.7 L170.5,542.5 L192.3,547.3 L217.5,551.3 L246.5,556.1 L280.5,560.6 L321.0,564.3 L370.6,565.8 L398.9,565.1 L431.3,553.4" fill="none" stroke="#8cb06e" stroke-width="1.30" stroke-linejoin="round"/>
<circle cx="125.8" cy="530.0" r="3.2" fill="#7ca55a"/>
<circle cx="133.9" cy="532.7" r="3.2" fill="#7ca55a"/>
<circle cx="151.2" cy="536.7" r="3.2" fill="#7ca55a"/>
<circle cx="170.5" cy="542.5" r="3.2" fill="#7ca55a"/>
<circle cx="192.3" cy="547.3" r="3.2" fill="#7ca55a"/>
<circle cx="217.5" cy="551.3" r="3.2" fill="#7ca55a"/>
<circle cx="246.5" cy="556.1" r="3.2" fill="#7ca55a"/>
<circle cx="280.5" cy="560.6" r="3.2" fill="#7ca55a"/>
<circle cx="321.0" cy="564.3" r="3.2" fill="#7ca55a"/>
<circle cx="370.6" cy="565.8" r="3.2" fill="#7ca55a"/>
<circle cx="398.9" cy="565.1" r="3.2" fill="#7ca55a"/>
<path d="M118.2,418.6 L125.8,533.5 L133.9,535.9 L151.2,539.9 L170.5,544.7 L192.3,548.4 L217.5,552.1 L246.5,556.9 L280.5,561.1 L321.0,564.6 L370.6,565.3 L398.9,564.7 L431.3,553.4" fill="none" stroke="#afb773" stroke-width="1.30" stroke-linejoin="round"/>
<circle cx="125.8" cy="533.5" r="3.2" fill="#a4ad60"/>
<circle cx="133.9" cy="535.9" r="3.2" fill="#a4ad60"/>
<circle cx="151.2" cy="539.9" r="3.2" fill="#a4ad60"/>
<circle cx="170.5" cy="544.7" r="3.2" fill="#a4ad60"/>
<circle cx="192.3" cy="548.4" r="3.2" fill="#a4ad60"/>
<circle cx="217.5" cy="552.1" r="3.2" fill="#a4ad60"/>
<circle cx="246.5" cy="556.9" r="3.2" fill="#a4ad60"/>
<circle cx="280.5" cy="561.1" r="3.2" fill="#a4ad60"/>
<circle cx="321.0" cy="564.6" r="3.2" fill="#a4ad60"/>
<circle cx="370.6" cy="565.3" r="3.2" fill="#a4ad60"/>
<circle cx="398.9" cy="564.7" r="3.2" fill="#a4ad60"/>
<path d="M118.2,418.6 L125.8,537.0 L133.9,539.2 L151.2,543.0 L170.5,546.8 L192.3,549.3 L217.5,552.8 L246.5,557.6 L280.5,561.5 L321.0,564.8 L370.6,565.0 L398.9,564.4 L431.3,553.4" fill="none" stroke="#c2b27b" stroke-width="1.30" stroke-linejoin="round"/>
<circle cx="125.8" cy="537.0" r="3.2" fill="#baa769"/>
<circle cx="133.9" cy="539.2" r="3.2" fill="#baa769"/>
<circle cx="151.2" cy="543.0" r="3.2" fill="#baa769"/>
<circle cx="170.5" cy="546.8" r="3.2" fill="#baa769"/>
<circle cx="192.3" cy="549.3" r="3.2" fill="#baa769"/>
<circle cx="217.5" cy="552.8" r="3.2" fill="#baa769"/>
<circle cx="246.5" cy="557.6" r="3.2" fill="#baa769"/>
<circle cx="280.5" cy="561.5" r="3.2" fill="#baa769"/>
<circle cx="321.0" cy="564.8" r="3.2" fill="#baa769"/>
<circle cx="370.6" cy="565.0" r="3.2" fill="#baa769"/>
<circle cx="398.9" cy="564.4" r="3.2" fill="#baa769"/>
<path d="M118.2,418.6 L125.8,524.0 L133.9,526.2 L151.2,529.7 L170.5,532.0 L192.3,535.3 L217.5,539.3 L246.5,543.7 L280.5,547.7 L321.0,551.5 L370.6,553.5 L398.9,555.0 L431.3,553.4" fill="none" stroke="#d5bea3" stroke-width="1.30" stroke-linejoin="round"/>
<circle cx="125.8" cy="524.0" r="3.2" fill="#cfb596"/>
<circle cx="133.9" cy="526.2" r="3.2" fill="#cfb596"/>
<circle cx="151.2" cy="529.7" r="3.2" fill="#cfb596"/>
<circle cx="170.5" cy="532.0" r="3.2" fill="#cfb596"/>
<circle cx="192.3" cy="535.3" r="3.2" fill="#cfb596"/>
<circle cx="217.5" cy="539.3" r="3.2" fill="#cfb596"/>
<circle cx="246.5" cy="543.7" r="3.2" fill="#cfb596"/>
<circle cx="280.5" cy="547.7" r="3.2" fill="#cfb596"/>
<circle cx="321.0" cy="551.5" r="3.2" fill="#cfb596"/>
<circle cx="370.6" cy="553.5" r="3.2" fill="#cfb596"/>
<circle cx="398.9" cy="555.0" r="3.2" fill="#cfb596"/>
<path d="M118.2,418.6 L125.8,515.0 L133.9,516.9 L151.2,520.6 L170.5,523.8 L192.3,527.8 L217.5,532.6 L246.5,536.5 L280.5,541.3 L321.0,546.5 L370.6,553.6 L398.9,555.0 L431.3,553.4" fill="none" stroke="#ede3e3" stroke-width="1.30" stroke-linejoin="round"/>
<circle cx="125.8" cy="515.0" r="3.2" fill="#ebdfdf"/>
<circle cx="133.9" cy="516.9" r="3.2" fill="#ebdfdf"/>
<circle cx="151.2" cy="520.6" r="3.2" fill="#ebdfdf"/>
<circle cx="170.5" cy="523.8" r="3.2" fill="#ebdfdf"/>
<circle cx="192.3" cy="527.8" r="3.2" fill="#ebdfdf"/>
<circle cx="217.5" cy="532.6" r="3.2" fill="#ebdfdf"/>
<circle cx="246.5" cy="536.5" r="3.2" fill="#ebdfdf"/>
<circle cx="280.5" cy="541.3" r="3.2" fill="#ebdfdf"/>
<circle cx="321.0" cy="546.5" r="3.2" fill="#ebdfdf"/>
<circle cx="370.6" cy="553.6" r="3.2" fill="#ebdfdf"/>
<circle cx="398.9" cy="555.0" r="3.2" fill="#ebdfdf"/>
<path d="M118.20,414.30 L119.26,417.14 L122.29,417.27 L119.92,419.16 L120.73,422.08 L118.20,420.41 L115.67,422.08 L116.48,419.16 L114.11,417.27 L117.14,417.14Z" fill="#efe3e3"/>
<circle cx="118.20" cy="414.40" r="1.0" fill="#222"/>
<circle cx="122.19" cy="417.30" r="1.0" fill="#222"/>
<circle cx="120.67" cy="422.00" r="1.0" fill="#222"/>
<circle cx="115.73" cy="422.00" r="1.0" fill="#222"/>
<circle cx="114.21" cy="417.30" r="1.0" fill="#222"/>
<path d="M431.30,549.10 L432.36,551.94 L435.39,552.07 L433.02,553.96 L433.83,556.88 L431.30,555.21 L428.77,556.88 L429.58,553.96 L427.21,552.07 L430.24,551.94Z" fill="#efe3e3"/>
<circle cx="431.30" cy="549.20" r="1.0" fill="#222"/>
<circle cx="435.29" cy="552.10" r="1.0" fill="#222"/>
<circle cx="433.77" cy="556.80" r="1.0" fill="#222"/>
<circle cx="428.83" cy="556.80" r="1.0" fill="#222"/>
<circle cx="427.31" cy="552.10" r="1.0" fill="#222"/>
</g>
<rect x="103.2" y="409.0" width="343.6" height="168.20000000000005" fill="none" stroke="#707070" stroke-width="1.8"/>
<path d="M166.9,171.8 v-3.8 M166.9,3.2 v3.8 M245.6,171.8 v-3.8 M245.6,3.2 v3.8 M324.3,171.8 v-3.8 M324.3,3.2 v3.8 M403.3,171.8 v-3.8 M403.3,3.2 v3.8 M103.2,17.5 h3.8 M446.8,17.5 h-3.8 M103.2,79.7 h3.8 M446.8,79.7 h-3.8 M103.2,141.8 h3.8 M446.8,141.8 h-3.8" stroke="#333" stroke-width="1.2" fill="none"/>
<text transform="translate(0,189.93) scale(1.1209,1)" x="135.14 146.15 151.65" y="0" font-size="19.8" fill="#000">0.8</text>
<text transform="translate(0,189.93) scale(1.1209,1)" x="205.35 216.36 221.86" y="0" font-size="19.8" fill="#000">1.0</text>
<text transform="translate(0,189.93) scale(1.1209,1)" x="275.56 286.57 292.07" y="0" font-size="19.8" fill="#000">1.2</text>
<text transform="translate(0,189.83) scale(1.1209,1)" x="346.04 357.05 362.55" y="0" font-size="19.8" fill="#000">1.4</text>
<text transform="translate(0,24.68) scale(1.1209,1)" x="61.60 72.61 78.11" y="0" font-size="19.8" fill="#000">0.4</text>
<text transform="translate(0,86.88) scale(1.1209,1)" x="61.60 72.61 78.11" y="0" font-size="19.8" fill="#000">0.3</text>
<text transform="translate(0,148.98) scale(1.1209,1)" x="61.60 72.61 78.11" y="0" font-size="19.8" fill="#000">0.2</text>
<path d="M127.2,374.8 v-3.8 M127.2,206.2 v3.8 M219.3,374.8 v-3.8 M219.3,206.2 v3.8 M311.4,374.8 v-3.8 M311.4,206.2 v3.8 M403.5,374.8 v-3.8 M403.5,206.2 v3.8 M103.2,252.4 h3.8 M446.8,252.4 h-3.8 M103.2,307.1 h3.8 M446.8,307.1 h-3.8 M103.2,361.8 h3.8 M446.8,361.8 h-3.8" stroke="#333" stroke-width="1.2" fill="none"/>
<text transform="translate(0,392.73) scale(1.1209,1)" x="107.98" y="0" font-size="19.8" fill="#000">3</text>
<text transform="translate(0,392.63) scale(1.1209,1)" x="190.14" y="0" font-size="19.8" fill="#000">4</text>
<text transform="translate(0,392.63) scale(1.1209,1)" x="272.31" y="0" font-size="19.8" fill="#000">5</text>
<text transform="translate(0,392.73) scale(1.1209,1)" x="354.48" y="0" font-size="19.8" fill="#000">6</text>
<text transform="translate(0,259.58) scale(1.1209,1)" x="50.59 61.60 67.10 78.11" y="0" font-size="19.8" fill="#000">0.20</text>
<text transform="translate(0,314.28) scale(1.1209,1)" x="50.59 61.60 67.10 78.11" y="0" font-size="19.8" fill="#000">0.15</text>
<text transform="translate(0,368.98) scale(1.1209,1)" x="50.59 61.60 67.10 78.11" y="0" font-size="19.8" fill="#000">0.10</text>
<path d="M127.0,577.2 v-3.8 M127.0,409.0 v3.8 M196.4,577.2 v-3.8 M196.4,409.0 v3.8 M265.8,577.2 v-3.8 M265.8,409.0 v3.8 M335.1,577.2 v-3.8 M335.1,409.0 v3.8 M404.2,577.2 v-3.8 M404.2,409.0 v3.8 M103.2,432.6 h3.8 M446.8,432.6 h-3.8 M103.2,494.6 h3.8 M446.8,494.6 h-3.8 M103.2,556.6 h3.8 M446.8,556.6 h-3.8" stroke="#333" stroke-width="1.2" fill="none"/>
<text transform="translate(0,595.43) scale(1.1209,1)" x="94.03 105.05 116.06 121.56" y="0" font-size="19.8" fill="#000">10.0</text>
<text transform="translate(0,595.43) scale(1.1209,1)" x="155.95 166.96 177.97 183.47" y="0" font-size="19.8" fill="#000">12.5</text>
<text transform="translate(0,595.43) scale(1.1209,1)" x="217.86 228.88 239.89 245.39" y="0" font-size="19.8" fill="#000">15.0</text>
<text transform="translate(0,595.33) scale(1.1209,1)" x="279.69 290.70 301.71 307.21" y="0" font-size="19.8" fill="#000">17.5</text>
<text transform="translate(0,595.43) scale(1.1209,1)" x="341.34 352.35 363.36 368.86" y="0" font-size="19.8" fill="#000">20.0</text>
<text transform="translate(0,439.78) scale(1.1209,1)" x="50.59 61.60 67.10 78.11" y="0" font-size="19.8" fill="#000">0.15</text>
<text transform="translate(0,501.78) scale(1.1209,1)" x="50.59 61.60 67.10 78.11" y="0" font-size="19.8" fill="#000">0.10</text>
<text transform="translate(0,563.78) scale(1.1209,1)" x="50.59 61.60 67.10 78.11" y="0" font-size="19.8" fill="#000">0.05</text>
<text transform="translate(0,29.70) scale(0.9000,1)" x="143.93 152.17 165.22" y="0" font-size="21.6" fill="#000">(a)</text>
<text transform="translate(0,237.00) scale(0.9000,1)" x="143.87 152.40 165.74" y="0" font-size="21.6" fill="#000">(b)</text>
<text transform="translate(0,440.40) scale(0.9000,1)" x="143.68 151.59 163.11" y="0" font-size="21.6" fill="#000">(c)</text>
<text transform="translate(0,29.90) scale(1.1116,1)" x="308.09 314.10 318.84 329.64 334.74 345.36 350.86 367.99" y="0" font-size="19.8" fill="#000">t = 7 mm</text>
<text transform="translate(0,232.90) scale(1.0988,1)" x="302.21 308.24 312.99 323.80 328.92 339.81 350.44 355.95 373.11" y="0" font-size="19.8" fill="#000">t = 30 mm</text>
<text transform="translate(0,437.00) scale(1.0983,1)" x="291.26 297.30 302.05 312.87 318.00 328.90 339.81 350.45 355.97 373.16" y="0" font-size="19.8" fill="#000">t = 100 mm</text>
<circle cx="303.1" cy="56.5" r="3.2" fill="#000"/>
<text x="311.50" y="64.00" font-size="21.5" textLength="115.62" lengthAdjust="spacingAndGlyphs" fill="#000" >Ideal Layer</text>
<path d="M302.45,68.40 L304.57,73.99 L310.53,74.27 L305.87,78.01 L307.45,83.78 L302.45,80.50 L297.45,83.78 L299.03,78.01 L294.37,74.27 L300.33,73.99Z" fill="#000"/>
<text x="313.92" y="84.50" font-size="21.5" textLength="86.31" lengthAdjust="spacingAndGlyphs" fill="#000" >Blended</text>
<rect x="452.5" y="3.20" width="40.0" height="52.50" fill="#e6d8d6"/>
<rect x="452.5" y="55.40" width="40.0" height="52.50" fill="#c9ab8c"/>
<rect x="452.5" y="107.60" width="40.0" height="52.50" fill="#baa769"/>
<rect x="452.5" y="159.80" width="40.0" height="52.50" fill="#a4ad60"/>
<rect x="452.5" y="212.00" width="40.0" height="52.50" fill="#7ca55a"/>
<rect x="452.5" y="264.20" width="40.0" height="52.50" fill="#5e9756"/>
<rect x="452.5" y="316.40" width="40.0" height="52.50" fill="#4f8a6a"/>
<rect x="452.5" y="368.60" width="40.0" height="52.50" fill="#487c80"/>
<rect x="452.5" y="420.80" width="40.0" height="52.50" fill="#37598b"/>
<rect x="452.5" y="473.00" width="40.0" height="52.50" fill="#1c2a7e"/>
<rect x="452.5" y="525.20" width="40.0" height="52.50" fill="#000000"/>
<g clip-path="url(#cbc)">
<clipPath id="cbc"><rect x="452.5" y="3.2" width="40.0" height="574.1999999999999"/></clipPath>
<text x="454.37" y="32.15" font-size="24.2" textLength="40.38" lengthAdjust="spacingAndGlyphs" fill="#fff" >100</text>
<text x="459.31" y="81.10" font-size="24.2" textLength="26.92" lengthAdjust="spacingAndGlyphs" fill="#fff" >50</text>
<text x="465.28" y="136.40" font-size="24.2" textLength="13.46" lengthAdjust="spacingAndGlyphs" fill="#fff" >9</text>
<text x="465.22" y="191.70" font-size="24.2" textLength="13.46" lengthAdjust="spacingAndGlyphs" fill="#fff" >8</text>
<text x="465.28" y="240.50" font-size="24.2" textLength="13.46" lengthAdjust="spacingAndGlyphs" fill="#fff" >7</text>
<text x="465.16" y="295.50" font-size="24.2" textLength="13.46" lengthAdjust="spacingAndGlyphs" fill="#fff" >6</text>
<text x="465.28" y="355.90" font-size="24.2" textLength="13.46" lengthAdjust="spacingAndGlyphs" fill="#fff" >5</text>
<text x="465.41" y="410.80" font-size="24.2" textLength="13.46" lengthAdjust="spacingAndGlyphs" fill="#fff" >4</text>
<text x="465.28" y="463.40" font-size="24.2" textLength="13.46" lengthAdjust="spacingAndGlyphs" fill="#fff" >3</text>
<text x="465.28" y="516.40" font-size="24.2" textLength="13.46" lengthAdjust="spacingAndGlyphs" fill="#fff" >2</text>
<text x="464.92" y="565.60" font-size="24.2" textLength="13.46" lengthAdjust="spacingAndGlyphs" fill="#fff" >1</text>
<rect x="455.3" y="29.8" width="4.9" height="2.3" fill="#e6d8d6"/>
<rect x="462.0" y="29.8" width="5.0" height="2.3" fill="#e6d8d6"/>
<rect x="465.6" y="563.6" width="5.2" height="2.5" fill="#000"/>
<rect x="473.0" y="563.8" width="5.2" height="2.3" fill="#000"/>
</g>
<rect x="452.5" y="3.2" width="40.0" height="574.1999999999999" fill="none" stroke="#555" stroke-width="1.5"/>
<text transform="translate(516.70,349.50) rotate(-90) scale(1.1500,1)" x="0.45 13.27 18.58 29.73 35.56 39.69 51.39 62.54 69.63 74.04 84.88 95.49" y="0" font-size="19.9"># of Periods</text>
<text transform="translate(18.00,391.30) rotate(-90) scale(1.1038,1)" x="-2.75 9.70 15.87 21.63 32.40 42.84 49.26 54.17 64.21 75.12 80.31 94.06 104.54 113.96 124.87 129.40 142.50 154.04 160.46 165.00" y="0" font-size="19.6">Effective Dose Ratio</text>
<text transform="translate(39.60,379.30) rotate(-90) scale(1.0801,1)" x="-0.73 5.68 11.54 23.94 28.91 43.90" y="0" font-size="19.4">[(E/Φ)</text>
<text transform="translate(43.40,323.30) rotate(-90) scale(1.0559,1)" x="-0.78 6.51 14.44" y="0" font-size="13.8" font-style="italic">out</text>
<text transform="translate(39.60,294.80) rotate(-90) scale(1.0597,1)" x="0.34 6.24 12.09 18.06 30.56 35.65 50.76" y="0" font-size="19.4">/ (E/Φ)</text>
<text transform="translate(43.40,232.00) rotate(-90) scale(0.9640,1)" x="-0.31 2.76" y="0" font-size="13.8" font-style="italic">in</text>
<text transform="translate(39.60,218.00) rotate(-90)" x="-0.10" y="0" font-size="19.4" textLength="5.39" lengthAdjust="spacingAndGlyphs" >]</text>
<text transform="translate(0,626.20) scale(1.1340,1)" x="145.98 158.56 165.13 175.59 186.43 190.96 195.89 209.31 219.95 230.33 239.84 245.01 251.22 261.14 267.17 273.18 284.17 289.56 299.29" y="0" font-size="19.5" fill="#000">Areal Density [g/cm</text>
<text x="357.34" y="618.00" font-size="13.5" textLength="9.53" lengthAdjust="spacingAndGlyphs" fill="#000" >2</text>
<text x="368.91" y="626.20" font-size="19.5" textLength="5.00" lengthAdjust="spacingAndGlyphs" fill="#000" >]</text>
</svg></body></html>
